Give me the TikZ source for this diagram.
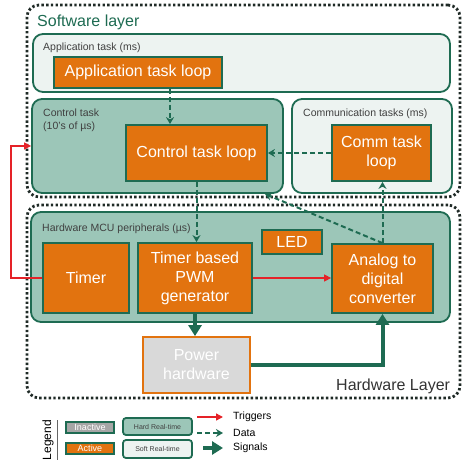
\documentclass[tikz,border=0pt]{standalone}
\usepackage{fontspec}
\setmainfont{Liberation Sans}
\usetikzlibrary{arrows.meta, positioning, calc}
\definecolor{darkgreen}{HTML}{1E6B52}
\definecolor{tealfill}{HTML}{9CC6B8}
\definecolor{lightfill}{HTML}{EDF3F1}
\definecolor{tiorange}{HTML}{E2730F}
\definecolor{hwgray}{HTML}{D9D9D9}
\definecolor{trigred}{HTML}{E52228}
\definecolor{dotgray}{HTML}{1F2A26}

\begin{document}
\begin{tikzpicture}[x=1pt, y=-1pt,
    layer/.style={draw=dotgray, line width=2.8pt, dash pattern=on 2.4pt off 2.3pt, rounded corners=12pt, inner sep=0pt},
    hardrt/.style={draw=darkgreen, line width=1.8pt, fill=tealfill, rounded corners=10pt, inner sep=0pt},
    softrt/.style={hardrt, fill=lightfill},
    active/.style={draw=darkgreen, line width=1.8pt, fill=tiorange, text=white, align=center, inner sep=0pt, font=\fontsize{16}{19}\selectfont},
    inactive/.style={active, draw=tiorange, fill=hwgray},
    tasklabel/.style={anchor=base west, text=black!75, font=\fontsize{10.5}{13}\selectfont, align=left, inner sep=0pt},
    trigger/.style={draw=trigred, line width=1.4pt, -{Triangle[length=7pt,width=7pt]}},
    data/.style={draw=darkgreen, line width=2pt, dash pattern=on 5pt off 3pt, -{Stealth[length=7pt,width=8pt]}},
    signal/.style={draw=darkgreen, line width=4pt, -{Triangle[length=11pt,width=13pt]}}
]
\useasboundingbox (0,0) rectangle (474,465);

% Layers
\node[layer, minimum width=433, minimum height=192] (sw) at (243.5,101) {};
\node[layer, minimum width=433, minimum height=193] (hw) at (243.5,301.5) {};
\node[anchor=base west, inner sep=0pt, text=darkgreen, font=\fontsize{16}{19}\selectfont] (swlabel) at (37,27) {Software layer};
\node[anchor=base west, inner sep=0pt, text=black!80, font=\fontsize{16}{19}\selectfont] (hwlabel) at (336,390) {Hardware Layer};

% Task containers
\node[softrt, minimum width=417, minimum height=58] (app) at (241.5,63) {};
\node[hardrt, minimum width=251, minimum height=94] (ctrl) at (157.5,146) {};
\node[softrt, minimum width=160, minimum height=94] (comm) at (372,146) {};
\node[hardrt, minimum width=419, minimum height=110] (mcu) at (240.5,267) {};
\node[tasklabel] (applabel) at (43,50.5) {Application task (ms)};
\node[tasklabel] (ctrllabel) at (43,130) {Control task\\(10's of µs)};
\node[tasklabel] (commlabel) at (303,117) {Communication tasks (ms)};
\node[tasklabel] (mculabel) at (42,232) {Hardware MCU peripherals (µs)};

% Blocks
\node[active, minimum width=168, minimum height=31] (apploop) at (138,72.5) {Application task loop};
\node[active, minimum width=141, minimum height=56] (ctrlloop) at (196.5,153) {Control task loop};
\node[active, minimum width=99, minimum height=56] (commloop) at (381.5,153) {Comm task\\loop};
\node[active, minimum width=86, minimum height=70] (timer) at (86,278) {Timer};
\node[active, minimum width=114, minimum height=70] (pwm) at (195,278) {Timer based\\PWM\\generator};
\node[active, minimum width=60, minimum height=24] (led) at (292,242) {LED};
\node[active, minimum width=101, minimum height=69] (adc) at (382.5,278.5) {Analog to\\digital\\converter};
\node[inactive, minimum width=107, minimum height=56] (power) at (196.5,365) {Power\\hardware};

% Data
\draw[data] ([xshift=32pt]apploop.south) -- ([xshift=32pt]apploop.south |- ctrlloop.north);
\draw[data] (commloop.west) -- (ctrlloop.east);
\draw[data] (ctrlloop.south) -- (ctrlloop.south |- pwm.north);
\draw[data] (adc.north) -- (adc.north |- commloop.south);
\draw[data] (adc.north) -- ([xshift=-19pt]ctrl.south east);

% Triggers
\draw[trigger] (timer.west) -- ++(-31,0) |- (ctrl.west);
\draw[trigger] (pwm.east) -- (pwm.east -| adc.west);

% Signals
\draw[signal] (pwm.south) -- (pwm.south |- power.north);
\draw[signal] (power.east) -| (adc.south);

% Legend
\node[rotate=90, inner sep=0pt, font=\fontsize{12}{14}\selectfont] (legend) at (48,440) {Legend};
\coordinate (lgtop) at (57,420);
\coordinate (lgbot) at (57,460);
\draw[black!60, line width=0.8pt] (lgtop) -- (lgbot);
\node[inactive, draw=darkgreen, minimum width=48, minimum height=11, font=\fontsize{9}{10}\selectfont, fill=black!35] (lginactive) at (90,427.5) {Inactive};
\node[active, minimum width=48, minimum height=11, font=\fontsize{9}{10}\selectfont] (lgactive) at (90,448.5) {Active};
\node[hardrt, rounded corners=3pt, minimum width=69, minimum height=17, font=\fontsize{7}{8}\selectfont, text=black!75] (lghard) at (157.5,426.5) {Hard Real-time};
\node[softrt, rounded corners=3pt, minimum width=69, minimum height=18, font=\fontsize{7}{8}\selectfont, text=black!75] (lgsoft) at (157.5,449) {Soft Real-time};
\foreach \s/\t/\y/\x in {trigger/Triggers/417/197, data/Data/433/197, signal/Signals/448/203} {
    \node[anchor=west, inner sep=0pt, font=\fontsize{10.5}{12}\selectfont] (lg\t) at (233,\y) {\t};
    \coordinate (lga\t) at (\x,\y);
    \draw[\s] (lga\t) -- ([xshift=-10pt]lg\t.west |- lga\t);
}
\end{tikzpicture}
\end{document}
